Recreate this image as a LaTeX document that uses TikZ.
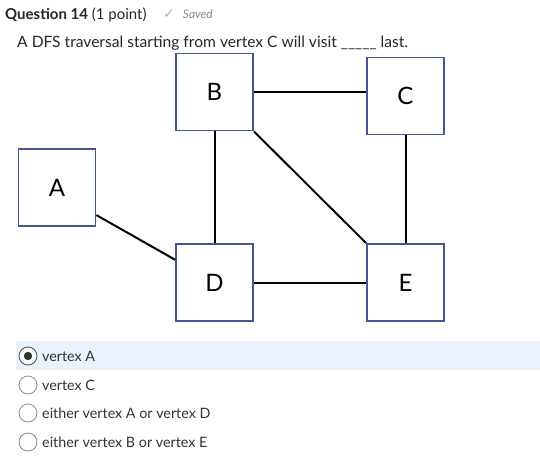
\documentclass[tikz,border=0pt]{standalone}
\usepackage{fontspec}
\setmainfont{Lato}
\newfontfamily\symfont{DejaVu Sans}
\definecolor{boxblue}{HTML}{41598F}
\definecolor{rowblue}{HTML}{EAF2FC}
\definecolor{savedgray}{HTML}{8A8A8A}
\begin{document}
\begin{tikzpicture}
    [x=1pt,y=-1pt,
    vertex/.style={draw=boxblue,line width=1.8pt,fill=white,minimum size=77pt,inner sep=0pt,font=\fontsize{24}{28}\selectfont},
    edge/.style={line width=2pt,black},
    radio/.style={circle,draw=black!45,line width=0.8pt,fill=white,minimum size=18pt,inner sep=0pt},
    answer/.style={anchor=west,inner sep=0pt,font=\fontsize{14.3}{17}\selectfont,text=black!80}]
    \useasboundingbox (0,0) rectangle (540,465);
    %header
    \node[anchor=west,inner sep=0pt,font=\fontsize{15}{18}\selectfont,text=black!85] (head) at (5,15) {\textbf{Question 14} (1 point)};
    \node[anchor=west,inner sep=0pt,font=\fontsize{12}{14}\selectfont,text=savedgray] (saved) at (163,14) {{\symfont\fontsize{14}{14}\selectfont\color{black!30}✓}\hspace{8pt}\textit{Saved}};
    \node[anchor=west,inner sep=0pt,font=\fontsize{15.6}{18}\selectfont,text=black!85] (quest) at (17,43) {A DFS traversal starting from vertex C will visit \_\_\_\_\_ last.};
    %vertices
    \node[vertex] (B) at (214.5,92) {B};
    \node[vertex] (C) at (405.5,96) {C};
    \node[vertex] (A) at (57,187.5) {A};
    \node[vertex] (D) at (214.5,282.5) {D};
    \node[vertex] (E) at (405.5,282.5) {E};
    %edges
    \draw[edge] (B.east) -- (B.east -| C.west);
    \draw[edge] (B.south) -- (D.north);
    \draw[edge] (C.south) -- (E.north);
    \draw[edge] (D.east) -- (E.west);
    \draw[edge] (B.south east) -- (E.north west);
    \draw[edge] (A.-35) -- (D.150);
    %answers
    \fill[rowblue] (16,341) rectangle (540,370);
    \node[radio,draw=black!70] (r1) at (28,356) {};
    \fill[black!80] (r1) circle (4.2pt);
    \node[radio] (r2) at (28,385) {};
    \node[radio] (r3) at (28,413) {};
    \node[radio] (r4) at (28,442) {};
    \node[answer] (t1) at (42,356) {vertex A};
    \node[answer] (t2) at (42,385) {vertex C};
    \node[answer] (t3) at (42,413) {either vertex A or vertex D};
    \node[answer] (t4) at (42,442) {either vertex B or vertex E};
\end{tikzpicture}
\end{document}
